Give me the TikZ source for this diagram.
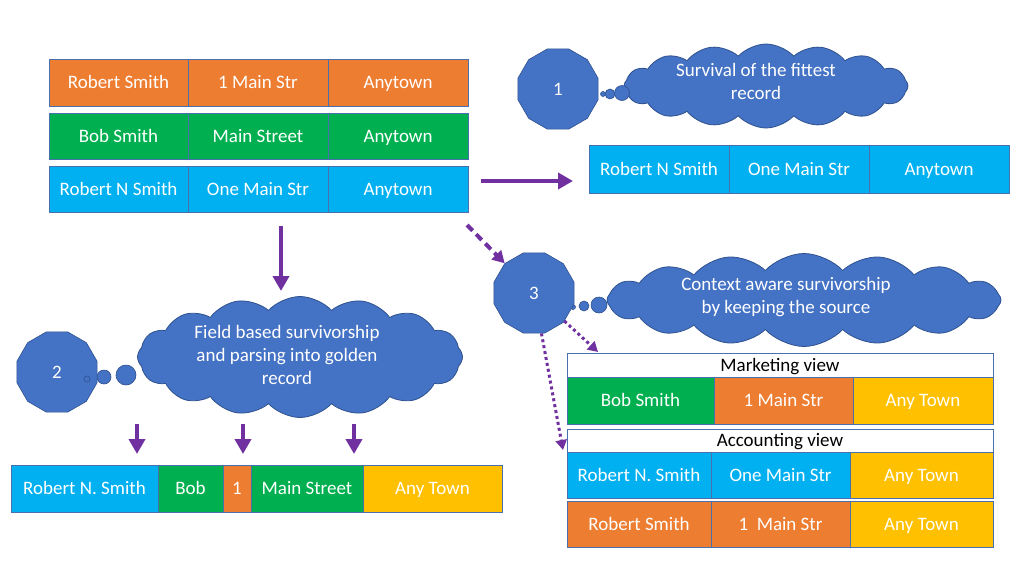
\documentclass[tikz,border=0pt]{standalone}
\usepackage{fontspec}
\setmainfont{Carlito}
\usetikzlibrary{shapes.geometric,shapes.symbols,arrows.meta}
\definecolor{cellOrange}{HTML}{ED7D31}
\definecolor{cellGreen}{HTML}{00B050}
\definecolor{cellBlue}{HTML}{00B0F0}
\definecolor{cellYellow}{HTML}{FFC000}
\definecolor{cellLine}{HTML}{4A6FAF}
\definecolor{shapeBlue}{HTML}{4472C4}
\definecolor{shapeLine}{HTML}{2F528F}
\definecolor{arrowPurple}{HTML}{7030A0}

\begin{document}
\begin{tikzpicture}
[x=1pt,y=-1pt,%
  cellDecorate/.style={shape=rectangle,draw=cellLine,line width=0.8pt,inner sep=0pt,text=white,text height=14pt,text depth=2pt,font=\fontsize{19}{23}\selectfont},%
  headerDecorate/.style={cellDecorate,fill=white,text=black},%
  badgeDecorate/.style={shape=regular polygon,regular polygon sides=12,minimum size=83,inner sep=0pt,fill=shapeBlue,draw=shapeLine,line width=0.6pt,text=white,font=\fontsize{19}{23}\selectfont},%
  cloudDecorate/.style={shape=cloud,cloud puffs=16,cloud puff arc=95,cloud ignores aspect,inner sep=0pt,fill=shapeBlue,draw=shapeLine,line width=0.8pt},%
  bubbleDecorate/.style={shape=circle,inner sep=0pt,fill=shapeBlue,draw=shapeLine,line width=0.6pt},%
  thoughtDecorate/.style={align=center,text=white,font=\fontsize{19}{23}\selectfont},%
  arrowDecorate/.style={draw=arrowPurple,line width=4.5pt,-{Triangle[length=15pt,width=16pt]}},%
  dashDecorate/.style={draw=arrowPurple,line width=4pt,dash pattern=on 8pt off 5pt,-{Triangle[length=12pt,width=13pt]}},%
  dotDecorate/.style={draw=arrowPurple,line width=3pt,dash pattern=on 3pt off 3pt,-{Triangle[length=10pt,width=11pt]}}]
\useasboundingbox (0,0) rectangle (1024,562);
%% source records
\foreach \nodename/\x/\y/\w/\h/\c/\t in {
  srcA1/118.5/82.5/139/47/cellOrange/Robert Smith, srcA2/258/82.5/140/47/cellOrange/1 Main Str, srcA3/398/82.5/140/47/cellOrange/Anytown,
  srcB1/118.5/136/139/46/cellGreen/Bob Smith, srcB2/258/136/140/46/cellGreen/Main Street, srcB3/398/136/140/46/cellGreen/Anytown,
  srcC1/118.5/189/139/46/cellBlue/Robert N Smith, srcC2/258/189/140/46/cellBlue/One Main Str, srcC3/398/189/140/46/cellBlue/Anytown}
{
  \node (\nodename) at (\x,\y) [cellDecorate,fill=\c,minimum width=\w,minimum height=\h] {\t};
}
%% survivor record
\foreach \nodename/\x/\y/\w/\h/\c/\t in {
  fitA/659/169/140/48/cellBlue/Robert N Smith, fitB/799/169/140/48/cellBlue/One Main Str, fitC/939/169/140/48/cellBlue/Anytown}
{
  \node (\nodename) at (\x,\y) [cellDecorate,fill=\c,minimum width=\w,minimum height=\h] {\t};
}
%% golden record
\foreach \nodename/\x/\y/\w/\h/\c/\t in {
  goldA/84.5/488.5/147/47/cellBlue/Robert N. Smith, goldB/190.5/488.5/65/47/cellGreen/Bob, goldC/237/488.5/28/47/cellOrange/1,
  goldD/307/488.5/112/47/cellGreen/Main Street, goldE/432.5/488.5/139/47/cellYellow/Any Town}
{
  \node (\nodename) at (\x,\y) [cellDecorate,fill=\c,minimum width=\w,minimum height=\h] {\t};
}
%% views
\node (mkView) at (780,365) [headerDecorate,minimum width=426,minimum height=24] {Marketing view};
\node (acView) at (780,440.5) [headerDecorate,minimum width=426,minimum height=23] {Accounting view};
\foreach \nodename/\x/\y/\w/\h/\c/\t in {
  mkA/640.5/400.5/147/47/cellGreen/Bob Smith, mkB/783.5/400.5/139/47/cellOrange/1 Main Str, mkC/923/400.5/140/47/cellYellow/Any Town,
  acA1/639/475/144/46/cellBlue/Robert N. Smith, acA2/780.5/475/139/46/cellBlue/One Main Str, acA3/921.5/475/143/46/cellYellow/Any Town,
  acB1/639/524/144/46/cellOrange/Robert Smith, acB2/780.5/524/139/46/cellOrange/1\ \ Main Str, acB3/921.5/524/143/46/cellYellow/Any Town}
{
  \node (\nodename) at (\x,\y) [cellDecorate,fill=\c,minimum width=\w,minimum height=\h] {\t};
}
%% clouds and badges
\node (cloudA) at (766,86) [cloudDecorate,minimum width=284,minimum height=84] {};
\node (cloudB) at (300,357) [cloudDecorate,minimum width=325,minimum height=121] {};
\node (cloudC) at (804,300) [cloudDecorate,minimum width=394,minimum height=93] {};
\node (textA) at (756,81) [thoughtDecorate] {Survival of the fittest\\record};
\node (textB) at (287,355) [thoughtDecorate] {Field based survivorship\\and parsing into golden\\record};
\node (textC) at (786,297) [thoughtDecorate] {Context aware survivorship\\by keeping the source};
\foreach \nodename/\x/\y/\r in {
  bubA1/603/94/5, bubA2/610/94/10, bubA3/622/93/15,
  bubB2/104/377/14, bubB3/126/375/20,
  bubC1/573/307/5, bubC2/584/306/10, bubC3/599/305/16}
{
  \node (\nodename) at (\x,\y) [bubbleDecorate,minimum size=\r] {};
}
\foreach \nodename/\x/\y/\t in {badgeA/558/89/1, badgeB/57/372/2, badgeC/534/293/3}
{
  \node (\nodename) at (\x,\y) [badgeDecorate] {\t};
}
\node (bubB1) at (87,379) [bubbleDecorate,minimum size=6] {};
%% arrows
\coordinate (rightFrom) at (481,181);
\coordinate (rightTo) at (573,181);
\coordinate (downFrom) at (281,226);
\coordinate (downTo) at (281,291);
\coordinate (dashFrom) at (467,225);
\coordinate (mkTo) at (598,352);
\coordinate (acTo) at (563,450);
\draw[arrowDecorate] (rightFrom) -- (rightTo);
\draw[arrowDecorate] (downFrom) -- (downTo);
\draw[dashDecorate] (dashFrom) -- (badgeC);
\draw[dotDecorate] (badgeC) -- (mkTo);
\draw[dotDecorate] (badgeC) -- (acTo);
\foreach \nodename/\x in {parseA/137, parseB/243, parseC/354}
{
  \coordinate (\nodename) at (\x,424);
  \draw[arrowDecorate,line width=4pt] (\nodename) -- ++(0,30);
}
\end{tikzpicture}
\end{document}
